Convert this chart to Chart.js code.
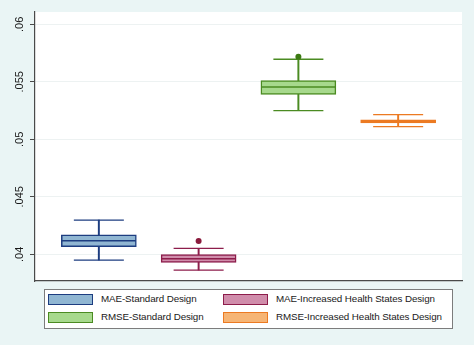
<!DOCTYPE html>
<html>
<head>
<meta charset="utf-8">
<script src="https://cdn.jsdelivr.net/npm/chart.js@4/dist/chart.umd.min.js"></script>
<style>
    html, body { margin: 0; padding: 0; background: #eaf5f5; }
    #wrap { position: relative; width: 474px; height: 345px; }
    #grafica { position: absolute; left: 0; top: 0; }
    #leyenda {
        position: absolute; left: 44px; top: 289px; width: 407px; height: 38px;
        background: #fff; border: 1px solid #7c7c7c;
        font-family: "Liberation Sans", Arial, sans-serif; font-size: 9.8px; color: #1a1a1a;
    }
    .item { position: absolute; white-space: nowrap; }
    .caja { position: absolute; width: 43px; height: 9px; border: 1.5px solid; }
    .texto { position: absolute; left: 53px; top: -1px; line-height: 12px; letter-spacing: -0.1px; }
</style>
</head>
<body>
<div id="wrap">
    <canvas id="grafica" width="474" height="345"></canvas>
    <div id="leyenda"></div>
</div>
<script>
// categorias y estadisticos de cada caja
var categorias = ['MAE-Standard Design', 'MAE-Increased Health States Design',
                  'RMSE-Standard Design', 'RMSE-Increased Health States Design'];
var bigoteInf = [0.0395, 0.03863, 0.05249, 0.0511];
var cuartil1  = [0.04066, 0.0393, 0.05391, 0.05142];
var mediana   = [0.04118, 0.03962, 0.05455, 0.05157];
var cuartil3  = [0.0417, 0.03997, 0.0551, 0.0517];
var bigoteSup = [0.04298, 0.04052, 0.05696, 0.05214];
var atipicos  = [[], [0.04116], [0.05718], []];
var marcasY   = [0.04, 0.045, 0.05, 0.055, 0.06];

var relleno = ['#90b6d2', '#d08dab', '#a7d98d', '#f6b575'];
var borde   = ['#1d3d80', '#8d1d4b', '#4b8b22', '#ec7a22'];
var puntos  = ['#1d3d80', '#8a1a3c', '#3c7a12', '#ec7a22'];

var datosBigote = [], datosCaja = [], datosMediana = [], datosTope = [], datosAtipico = [];
for (var i = 0; i < categorias.length; i++) {
    datosBigote.push({x: i, y: [bigoteInf[i], bigoteSup[i]]});
    datosCaja.push({x: i, y: [cuartil1[i], cuartil3[i]]});
    datosMediana.push({x: i, y: mediana[i]});
    datosTope.push({x: i, y: bigoteInf[i]});
    datosTope.push({x: i, y: bigoteSup[i]});
    for (var j = 0; j < atipicos[i].length; j++) datosAtipico.push({x: i, y: atipicos[i][j]});
}

function colorPor(lista) {
    return function(ctx) { return ctx.raw ? lista[ctx.raw.x] : lista[0]; };
}

// fondo blanco solo en el area de graficado
var fondoArea = {
    id: 'fondoArea',
    beforeDraw: function(chart) {
        var a = chart.chartArea, c = chart.ctx;
        c.save();
        c.fillStyle = '#ffffff';
        c.fillRect(a.left, a.top, a.right - a.left, a.bottom - a.top);
        c.restore();
    }
};

var ctx = document.getElementById('grafica').getContext('2d');
new Chart(ctx, {
    data: {
        datasets: [
            {
                type: 'bar', label: 'bigote', data: datosBigote, grouped: false, order: 4,
                barThickness: 1.3, backgroundColor: colorPor(borde), borderWidth: 0
            },
            {
                type: 'bar', label: 'caja', data: datosCaja, grouped: false, order: 3,
                barThickness: 75, backgroundColor: colorPor(relleno), borderColor: colorPor(borde),
                borderWidth: 1.5, borderSkipped: false
            },
            {
                type: 'scatter', label: 'mediana', data: datosMediana, order: 2,
                pointStyle: 'line', radius: 37, borderWidth: 1.4, borderColor: colorPor(borde)
            },
            {
                type: 'scatter', label: 'tope', data: datosTope, order: 2,
                pointStyle: 'line', radius: 25, borderWidth: 1.3, borderColor: colorPor(borde)
            },
            {
                type: 'scatter', label: 'atipico', data: datosAtipico, order: 1,
                pointStyle: 'circle', radius: 3, borderWidth: 0,
                backgroundColor: colorPor(puntos)
            }
        ]
    },
    options: {
        responsive: false,
        animation: false,
        events: [],
        layout: { autoPadding: false, padding: { left: 0, top: 12, right: 12, bottom: 64 } },
        plugins: { legend: { display: false }, tooltip: { enabled: false } },
        scales: {
            x: {
                type: 'linear', position: 'bottom', min: -0.64, max: 3.64, offset: false,
                grid: { display: false },
                border: { display: true, color: '#4a4a4a', width: 1.2 },
                ticks: { display: false },
                afterFit: function(s) { s.height = 0; s.paddingLeft = 0; s.paddingRight = 0; }
            },
            y: {
                type: 'linear', position: 'left', min: 0.03768, max: 0.06107,
                afterFit: function(s) { s.width = 35; },
                afterBuildTicks: function(s) {
                    s.ticks = marcasY.map(function(v) { return {value: v}; });
                },
                border: { display: true, color: '#4a4a4a', width: 1.2 },
                grid: { color: '#edf2f2', lineWidth: 1, tickColor: '#4a4a4a', tickLength: 5, drawTicks: true },
                ticks: {
                    minRotation: 90, maxRotation: 90, crossAlign: 'center', padding: -1,
                    color: '#1a1a1a',
                    font: { family: '"Liberation Sans", Arial, sans-serif', size: 11 },
                    callback: function(v) {
                        return String(Math.round(v * 1000) / 1000).replace(/^0/, '');
                    }
                }
            }
        }
    },
    plugins: [fondoArea]
});

// leyenda en dos columnas
var leyenda = document.getElementById('leyenda');
var orden = [0, 1, 2, 3];
orden.forEach(function(k, n) {
    var col = n % 2, fila = Math.floor(n / 2);
    var it = document.createElement('div');
    it.className = 'item';
    it.style.left = (col === 0 ? 3 : 178) + 'px';
    it.style.top = (fila === 0 ? 4 : 21.5) + 'px';
    var caja = document.createElement('div');
    caja.className = 'caja';
    caja.style.background = relleno[k];
    caja.style.borderColor = borde[k];
    var txt = document.createElement('span');
    txt.className = 'texto';
    txt.textContent = categorias[k];
    it.appendChild(caja);
    it.appendChild(txt);
    leyenda.appendChild(it);
});
</script>
</body>
</html>
